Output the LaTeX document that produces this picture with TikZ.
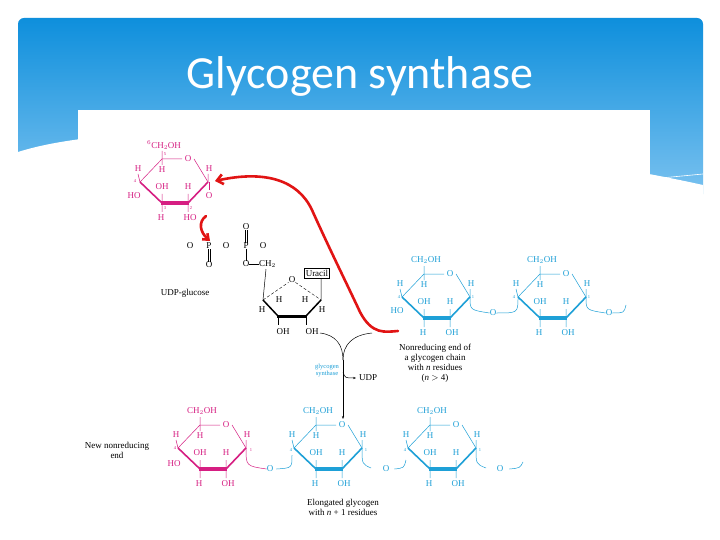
\documentclass[tikz,border=0pt]{standalone}
\usepackage{fontspec}
\setmainfont{Liberation Serif}
\newfontfamily\titlefont{Carlito}
\usetikzlibrary{arrows.meta}
\definecolor{mag}{RGB}{214,30,130}
\definecolor{cyb}{RGB}{30,160,215}
\definecolor{redd}{RGB}{225,20,20}
\tikzset{lab/.style={inner sep=0pt,font=\fontsize{9}{10}\selectfont},
 sm/.style={inner sep=0pt,font=\fontsize{4.5}{5}\selectfont}}
\newcommand\sugarring[6]{% x,y,color,toplabel,bottomleft,bottomright
\begin{scope}[shift={(#1,#2)}]
 \draw[#3,line width=0.5] (0,0)--(22,-23)--(42,-23);
 \draw[#3,line width=0.5] (54,-23)--(68,0);
 \draw[#3,line width=1.6] (0,0)--(22,21);
 \draw[#3,line width=3.2] (21,21)--(49,21);
 \draw[#3,line width=1.6] (48,21)--(68,0);
 \draw[#3,line width=0.5] (22,-23)--(22,-31) (22,-23)--(22,-17)
   (0,0)--(-2,-8) (22,21)--(22,12) (22,21)--(22,30) (48,21)--(48,12) (48,21)--(48,30) (68,0)--(68,-8);
 \node[lab,text=#3] at (48,-23) {O};
 \node[lab,text=#3] at (24,-37) {#4};
 \node[lab,text=#3] at (-2,-13) {H};
 \node[lab,text=#3] at (22,-12) {H};
 \node[lab,text=#3] at (22,5) {OH};
 \node[lab,text=#3] at (48,5) {H};
 \node[lab,text=#3] at (69,-13) {H};
 \node[lab,text=#3] at (21,36) {#5};
 \node[lab,text=#3] at (50,36) {#6};
\end{scope}}
\begin{document}
\begin{tikzpicture}[x=1pt,y=-1pt]
\useasboundingbox (0,0) rectangle (720,540);
\fill[white] (0,0) rectangle (720,540);
% slide header
\shade[top color={rgb,255:red,14;green,143;blue,220},bottom color={rgb,255:red,125;green,195;blue,240},rounded corners=6]
 (18,18) rectangle (703,200);
\fill[white] (18,152) .. controls (150,110) and (500,140) .. (703,185) -- (703,200) -- (18,200) -- cycle;
\fill[white] (18,200) rectangle (720,540);
\fill[white] (78,110) rectangle (650,200);
\draw[white,line width=0.6] (640,180) -- (703,174);
\node[text=white,font=\titlefont\fontsize{46}{50}\selectfont] (title) at (360,76) {Glycogen synthase};
% UDP-glucose glucose ring (magenta)
\sugarring{140}{182}{mag}{$^{6}$CH$_2$OH}{H}{HO}
\node[lab,text=mag] at (134,196) {HO};
\node[sm,text=mag] at (135,181) {4};
\node[sm,text=mag] at (165,154) {5};
\node[sm,text=mag] at (165,208) {3};
\node[sm,text=mag] at (191,208) {2};
\draw[mag,line width=0.5] (209,182)--(209,190);
\node[lab,text=mag] at (209,196) {O};
% phosphates
\node[lab] (o1) at (190,246) {O};
\node[lab] (p1) at (209,246) {P};
\node[lab] (o2) at (226,246) {O};
\node[lab] (p2) at (246,246) {P};
\node[lab] (o3) at (263,246) {O};
\node[lab] (o4) at (246,227) {O};
\node[lab] (o5) at (209,265) {O};
\node[lab] (o6) at (246,264) {O};
\node[lab,anchor=west] (ch2) at (259,264) {CH$_2$};
\draw[line width=0.4] ([xshift=-0.8]p2.north)--([xshift=-0.8]o4.south) ([xshift=0.8]p2.north)--([xshift=0.8]o4.south);
\draw[line width=0.4] ([xshift=-0.8]p1.south)--([xshift=-0.8]o5.north) ([xshift=0.8]p1.south)--([xshift=0.8]o5.north);
\draw[line width=0.4] (p2.south)--(o6.north) (o6.east)--(ch2.west);
\node[lab] at (185,293) {UDP-glucose};
% ribose
\node[lab] (ro) at (292,280) {O};
\draw[line width=0.4,densely dashed] (263,300)--(ro) (ro)--(321,300);
\draw[line width=0.5] (266,269)--(263,300) (321,300)--(321,278);
\draw[line width=1.5] (263,300)--(278,316);
\draw[line width=3] (277,316)--(307,316);
\draw[line width=1.5] (306,316)--(321,300);
\node[lab,draw,line width=0.5,inner sep=1.5pt,anchor=south west] (ura) at (304,278) {Uracil};
\node[lab] at (262,310) {H};
\node[lab] at (279,300) {H};
\node[lab] at (305,300) {H};
\node[lab] at (322,310) {H};
\draw[line width=0.5] (278,316)--(278,325) (306,316)--(306,325);
\node[lab] at (283,332) {OH};
\node[lab] at (312,332) {OH};
% glycogen chain (top)
\sugarring{402}{297}{cyb}{CH$_2$OH}{H}{OH}
\sugarring{518}{297}{cyb}{CH$_2$OH}{H}{OH}
\node[lab,text=cyb] at (397,311) {HO};
\node[sm,text=cyb] at (399,297) {4};
\node[sm,text=cyb] at (514,297) {4};
\node[sm,text=cyb] at (473,297) {1};
\node[sm,text=cyb] at (589,297) {1};
\node[lab,text=cyb] (lo1) at (493,313) {O};
\node[lab,text=cyb] (lo2) at (609,313) {O};
\draw[cyb,line width=0.5] (470,297) .. controls (470,310) .. (lo1.west);
\draw[cyb,line width=0.5] (lo1.east) .. controls (518,313) .. (518,297);
\draw[cyb,line width=0.5] (586,297) .. controls (586,310) .. (lo2.west);
\draw[cyb,line width=0.5] (lo2.east) .. controls (624,313) .. (626,305);
\node[lab,align=center] at (435,363) {Nonreducing end of\\ a glycogen chain\\ with \textit{n} residues\\ (\textit{n} $>$ 4)};
% reaction arrow
\coordinate (m) at (343,360);
\draw[line width=0.5] (320,333) .. controls (336,335) and (343,345) .. (m);
\draw[line width=0.5] (372,333) .. controls (352,335) and (343,345) .. (m);
\draw[line width=0.5,-{Stealth[length=3pt]}] (m)--(343,419);
\draw[line width=0.5,-{Stealth[length=3pt]}] (343,372) .. controls (345,378) .. (356,378);
\node[lab,anchor=west] at (359,378) {UDP};
\node[sm,text=cyb,align=center,font=\fontsize{6.5}{7}\selectfont] at (327,370) {glycogen\\ synthase};
% bottom: elongated chain
\sugarring{178}{448}{mag}{CH$_2$OH}{H}{OH}
\sugarring{294}{448}{cyb}{CH$_2$OH}{H}{OH}
\sugarring{408}{448}{cyb}{CH$_2$OH}{H}{OH}
\node[lab,text=mag] at (174,464) {HO};
\node[sm,text=mag] at (175,448) {4};
\node[sm,text=mag] at (251,450) {1};
\node[sm,text=cyb] at (291,450) {4};
\node[sm,text=cyb] at (366,450) {1};
\node[sm,text=cyb] at (405,450) {4};
\node[sm,text=cyb] at (480,450) {1};
\node[lab,text=cyb] (bo1) at (270,469) {O};
\node[lab,text=cyb] (bo2) at (386,469) {O};
\node[lab,text=cyb] (bo3) at (500,469) {O};
\draw[mag,line width=0.5] (246,448) .. controls (246,466) .. (bo1.west);
\draw[cyb,line width=0.5] (bo1.east) ++(3,0) .. controls (292,468) .. (292,455);
\draw[cyb,line width=0.5] (362,448) .. controls (362,464) .. (371,468);
\draw[cyb,line width=0.5] (bo2.east) ++(5,0) .. controls (404,468) .. (406,460);
\draw[cyb,line width=0.5] (476,448) .. controls (476,464) .. (486,468);
\draw[cyb,line width=0.5] (bo3.east) ++(6,0) .. controls (520,468) .. (523,462);
\node[lab,align=center] at (117,450) {New nonreducing\\ end};
\node[lab,align=center] at (343,507) {Elongated glycogen\\ with \textit{n} + 1 residues};
% red annotations
\draw[redd,line width=2.6,line cap=round,-{Straight Barb[length=6pt,width=10pt]}]
 (398,331) .. controls (385,332) and (372,335) .. (360,312)
 .. controls (345,280) and (330,250) .. (312,210)
 .. controls (298,180) and (265,170) .. (215,181);
\draw[redd,line width=2.6,line cap=round,-{Straight Barb[length=5pt,width=8pt]}]
 (206,216) .. controls (198,222) and (200,232) .. (210,241);
\end{tikzpicture}
\end{document}
